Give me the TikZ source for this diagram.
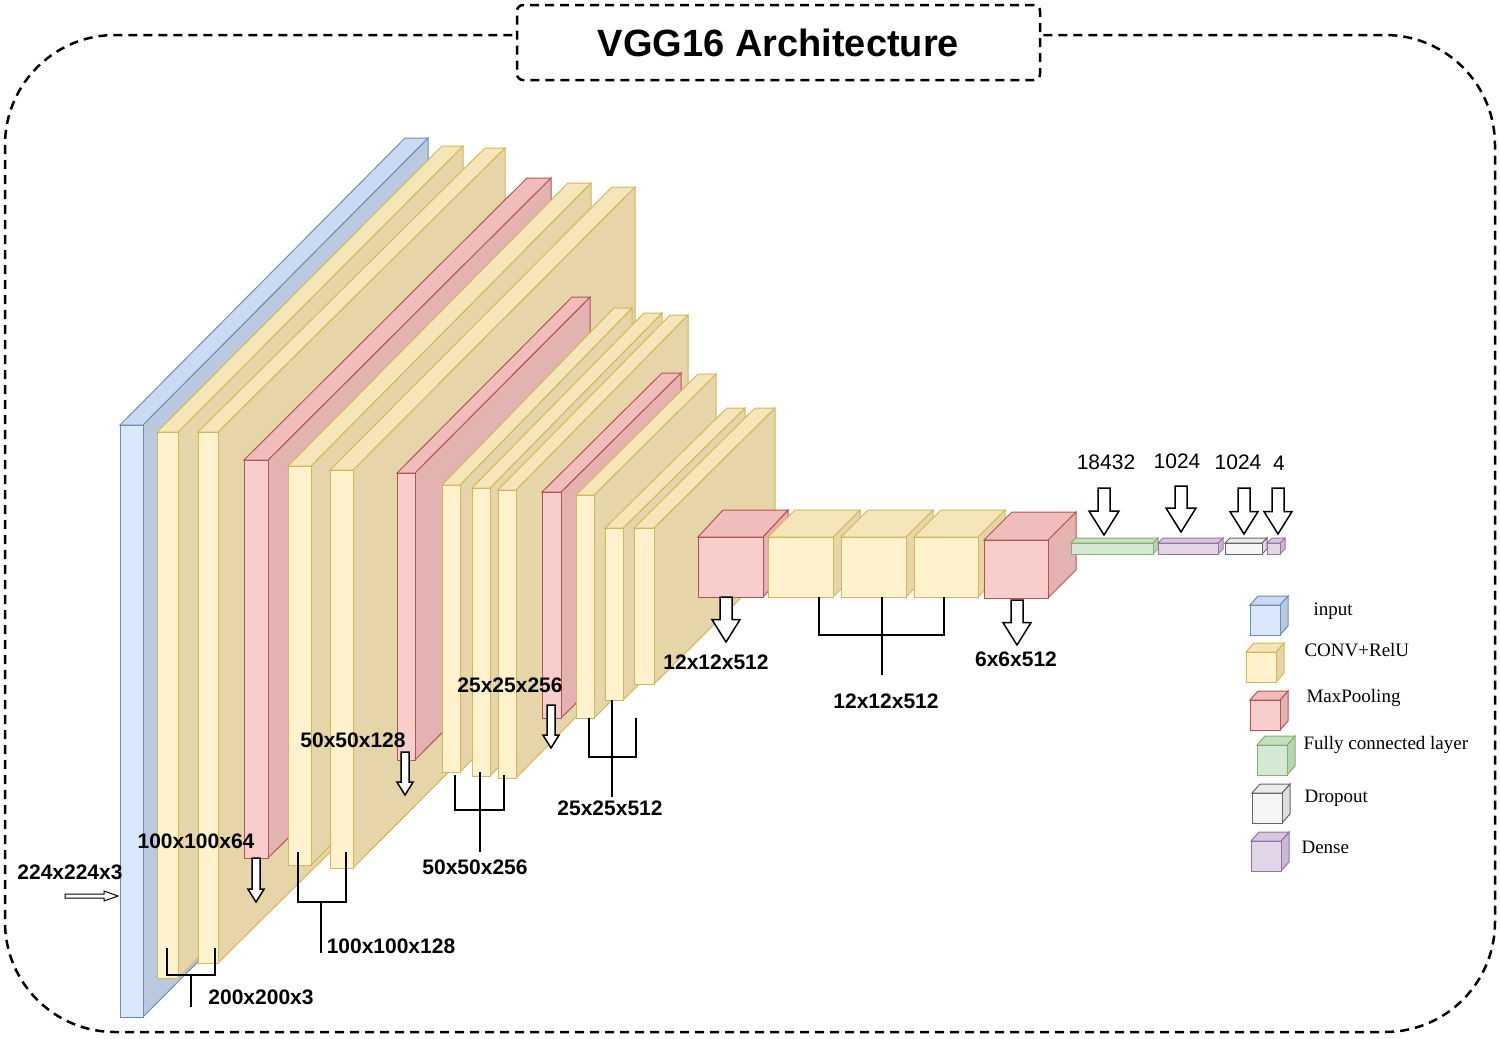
\documentclass[tikz,border=0pt]{standalone}
\usepackage{fontspec}
\setmainfont{Liberation Sans}
\newfontfamily\serifleg{Liberation Serif}
\begin{document}
\definecolor{yF}{HTML}{FFF2CC}\definecolor{yT}{HTML}{F5E6BA}\definecolor{yS}{HTML}{E6D5A8}\definecolor{yL}{HTML}{D6B656}
\definecolor{rF}{HTML}{F8CECC}\definecolor{rT}{HTML}{EFBDBB}\definecolor{rS}{HTML}{E3B3B2}\definecolor{rL}{HTML}{B85450}
\definecolor{bF}{HTML}{DAE8FC}\definecolor{bT}{HTML}{C9DAF2}\definecolor{bS}{HTML}{B9C9E0}\definecolor{bL}{HTML}{6C8EBF}
\definecolor{gF}{HTML}{D5E8D4}\definecolor{gT}{HTML}{C6DEC4}\definecolor{gS}{HTML}{B9D3B7}\definecolor{gL}{HTML}{82B366}
\definecolor{pF}{HTML}{E1D5E7}\definecolor{pT}{HTML}{D6C6DE}\definecolor{pS}{HTML}{CAB8D4}\definecolor{pL}{HTML}{9673A6}
\definecolor{wF}{HTML}{F5F5F5}\definecolor{wT}{HTML}{EBEBEB}\definecolor{wS}{HTML}{DDDDDD}\definecolor{wL}{HTML}{666666}
\newcommand\slab[7]{%
 \filldraw[fill=#7S,draw=#7L,line width=1] ({#1+#3},#2) -- ++(#5,-#6) -- ++(0,#4) -- ++(-#5,#6) -- cycle;
 \filldraw[fill=#7T,draw=#7L,line width=1] (#1,#2) -- ++(#5,-#6) -- ++(#3,0) -- ++(-#5,#6) -- cycle;
 \filldraw[fill=#7F,draw=#7L,line width=1] (#1,#2) rectangle ++(#3,#4);}
\newcommand\darrow[5]{% x ytop ybot shaft-half head-half
 \draw[fill=white,line width=1.5] ({#1-#4},#2) -- ({#1+#4},#2) -- ({#1+#4},{#3-1.6*#5}) -- ({#1+#5},{#3-1.6*#5}) -- (#1,#3) -- ({#1-#5},{#3-1.6*#5}) -- ({#1-#4},{#3-1.6*#5}) -- cycle;}
\begin{tikzpicture}[x=1pt,y=-1pt,
  lab/.style={font=\fontsize{21}{21}\selectfont\bfseries},
  labn/.style={font=\fontsize{21}{21}\selectfont},
  leg/.style={font=\fontsize{19}{19}\selectfont\serifleg,anchor=west},
  dashb/.style={line width=2.5,dash pattern=on 9pt off 6pt},
  br/.style={line width=2}]
\useasboundingbox (0,0) rectangle (1500,1039);
\draw[dashb,rounded corners=110] (5,35) rectangle (1495,1032);
\node[dashb,draw,fill=white,rounded corners=6,minimum width=523,minimum height=75,font=\fontsize{38}{38}\selectfont\bfseries] (title) at (778.5,42.5) {VGG16 Architecture};
% big slabs
\slab{120}{425}{23}{592}{285}{287}{b}
\slab{157}{432}{21}{546}{285}{286}{y}
\slab{198}{432}{20}{531}{287}{284}{y}
\slab{244}{460}{24}{398}{283}{282}{r}
\slab{288}{466}{23}{399}{280}{283}{y}
\slab{330}{470}{23}{398}{282}{283}{y}
\slab{397}{473}{18}{287}{175}{176}{r}
\slab{442}{485}{18}{287}{172}{177}{y}
\slab{472}{488}{18}{288}{172}{175}{y}
\slab{498}{490}{18}{288}{172}{175}{y}
\slab{542}{492}{19}{226}{120}{119}{r}
\slab{576}{495}{18}{223}{122}{121}{y}
\slab{605}{528}{18}{172}{122}{120}{y}
\slab{634}{528}{20}{156}{121}{120}{y}
% cubes
\slab{698}{537}{65}{60}{25}{27}{r}
\slab{768}{537}{65}{60}{27}{27}{y}
\slab{841}{537}{65}{60}{27}{27}{y}
\slab{914}{537}{64}{60}{27}{27}{y}
\slab{984}{540}{64}{58}{28}{28}{r}
\slab{1071}{543}{82}{11}{5}{5}{g}
\slab{1158}{543}{60}{11}{5}{5}{p}
\slab{1225}{543}{37}{11}{5}{5}{w}
\slab{1267}{543}{13}{11}{5}{5}{p}
% arrows
\darrow{1104}{488}{535}{6}{15}
\darrow{1181}{486}{532}{6}{15}
\darrow{1244}{488}{534}{6}{14}
\darrow{1278}{488}{534}{6}{14}
\darrow{726}{597}{642}{6}{14}
\darrow{1017}{600}{645}{6}{14}
\darrow{256}{858}{902}{4}{8}
\darrow{405}{752}{795}{4}{8}
\darrow{551}{705}{748}{4}{8}
\draw[line width=1,fill=white] (65,894) -- (104,894) -- (104,891) -- (118,896) -- (104,901) -- (104,898) -- (65,898) -- cycle;
% brackets
\draw[br] (167,948) -- (167,975) -- (215,975) -- (215,948) (191,975) -- (191,1007);
\draw[br] (298,852) -- (298,902) -- (346,902) -- (346,852) (321,902) -- (321,953);
\draw[br] (455,775) -- (455,810) -- (504,810) -- (504,775) (480,772) -- (480,852);
\draw[br] (589,718) -- (589,757) -- (636,757) -- (636,718) (612,700) -- (612,797);
\draw[br] (819,597) -- (819,635) -- (944,635) -- (944,597) (882,597) -- (882,675);
% labels
\node[lab] (l1) at (70,872) {224x224x3};
\node[lab] (l2) at (196,841) {100x100x64};
\node[lab] (l3) at (261,997) {200x200x3};
\node[lab] (l4) at (391,946) {100x100x128};
\node[lab] (l5) at (353,740) {50x50x128};
\node[lab] (l6) at (475,867) {50x50x256};
\node[lab] (l7) at (510,685) {25x25x256};
\node[lab] (l8) at (610,808) {25x25x512};
\node[lab] (l9) at (716,662) {12x12x512};
\node[lab] (l10) at (886,701) {12x12x512};
\node[lab] (l11) at (1016,659) {6x6x512};
\node[labn] (t1) at (1106,462) {18432};
\node[labn] (t2) at (1177,461) {1024};
\node[labn] (t3) at (1238,462) {1024};
\node[labn] (t4) at (1279,463) {4};
% legend
\slab{1250}{605}{30}{30}{8}{9}{b}
\slab{1246}{652}{30}{30}{8}{9}{y}
\slab{1250}{700}{30}{30}{8}{9}{r}
\slab{1257}{745}{30}{30}{8}{9}{g}
\slab{1252}{793}{30}{30}{8}{9}{w}
\slab{1251}{841}{30}{30}{8}{9}{p}
\node[leg] (g1) at (1310,611) {input};
\node[leg] (g2) at (1301,650) {CONV+RelU};
\node[leg] (g3) at (1303,698) {MaxPooling};
\node[leg] (g4) at (1300,745) {Fully connected layer};
\node[leg] (g5) at (1301,798) {Dropout};
\node[leg] (g6) at (1298,847) {Dense};
\end{tikzpicture}
\end{document}
